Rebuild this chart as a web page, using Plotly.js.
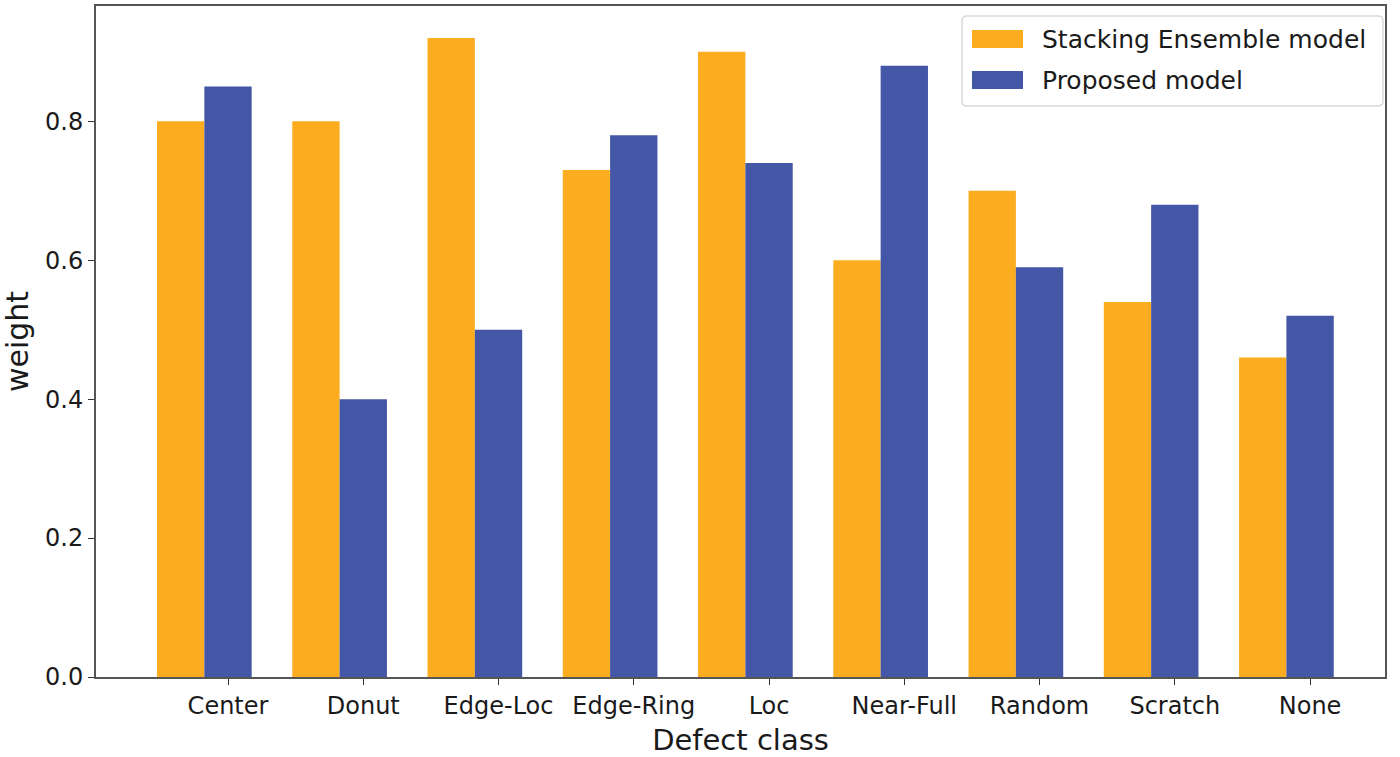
<!DOCTYPE html>
<html>
<head>
<meta charset="utf-8">
<script src="https://cdn.plot.ly/plotly-3.0.1.min.js"></script>
<style>
  body { margin: 0; background: #fff; }
  #chart { width: 1400px; height: 757px; }
</style>
</head>
<body>
<div id="chart"></div>
<script>
const classes = ["Center", "Donut", "Edge-Loc", "Edge-Ring", "Loc", "Near-Full", "Random", "Scratch", "None"];
const stackingWeights = [0.80, 0.80, 0.92, 0.73, 0.90, 0.60, 0.70, 0.54, 0.46];
const proposedWeights = [0.85, 0.40, 0.50, 0.78, 0.74, 0.88, 0.59, 0.68, 0.52];
const yTicks = [0.0, 0.2, 0.4, 0.6, 0.8];
const seriesNames = ["Stacking Ensemble model", "Proposed model"];
const seriesColors = ["#FBAC1F", "#4456A6"];

const fontFamily = "DejaVu Sans, sans-serif";
const textColor = "#1a1a1a";
const barW = 0.35;

// plot area in pixels (used to place the hand drawn legend box)
const M = { l: 96, r: 15, t: 6, b: 80 };
const W = 1400, H = 757;
const plotW = W - M.l - M.r, plotH = H - M.t - M.b;
const px = v => (v - M.l) / plotW;
const py = v => (H - M.b - v) / plotH;

const traces = [
  {
    type: "bar",
    name: seriesNames[0],
    x: classes,
    y: stackingWeights,
    width: barW,
    offset: -1.5 * barW,
    marker: { color: seriesColors[0] }
  },
  {
    type: "bar",
    name: seriesNames[1],
    x: classes,
    y: proposedWeights,
    width: barW,
    offset: -0.5 * barW,
    marker: { color: seriesColors[1] }
  }
];

// legend like matplotlib: rounded frame, wide patches
const shapes = [];
const annotations = [];
const bx0 = 962, bx1 = 1383, by0 = 16, by1 = 106, rr = 5;
shapes.push({
  type: "path", xref: "paper", yref: "paper",
  path: "M" + px(bx0 + rr) + "," + py(by0) +
        " L" + px(bx1 - rr) + "," + py(by0) +
        " Q" + px(bx1) + "," + py(by0) + " " + px(bx1) + "," + py(by0 + rr) +
        " L" + px(bx1) + "," + py(by1 - rr) +
        " Q" + px(bx1) + "," + py(by1) + " " + px(bx1 - rr) + "," + py(by1) +
        " L" + px(bx0 + rr) + "," + py(by1) +
        " Q" + px(bx0) + "," + py(by1) + " " + px(bx0) + "," + py(by1 - rr) +
        " L" + px(bx0) + "," + py(by0 + rr) +
        " Q" + px(bx0) + "," + py(by0) + " " + px(bx0 + rr) + "," + py(by0) + " Z",
  line: { color: "#d9d9d9", width: 1.5 },
  fillcolor: "rgba(255,255,255,0.85)"
});
seriesNames.forEach(function (name, i) {
  const rowY = 39 + i * 41;
  shapes.push({
    type: "rect", xref: "paper", yref: "paper",
    x0: px(972), x1: px(1023), y0: py(rowY - 9), y1: py(rowY + 9),
    line: { width: 0 },
    fillcolor: seriesColors[i]
  });
  annotations.push({
    xref: "paper", yref: "paper",
    x: px(1040), y: py(rowY),
    xanchor: "left", yanchor: "middle",
    text: name, showarrow: false,
    font: { size: 25, color: textColor }
  });
});

const layout = {
  width: W,
  height: H,
  margin: M,
  paper_bgcolor: "#fff",
  plot_bgcolor: "#fff",
  barmode: "overlay",
  showlegend: false,
  font: { family: fontFamily, size: 24, color: textColor },
  xaxis: {
    type: "category",
    range: [-0.976, 8.554],
    showgrid: false,
    ticks: "outside",
    ticklen: 6,
    tickcolor: "#333",
    showline: true,
    linecolor: "#555",
    linewidth: 2,
    mirror: true,
    tickfont: { size: 24, color: textColor },
    title: { text: "Defect class", font: { size: 29, color: textColor }, standoff: 14 }
  },
  yaxis: {
    range: [0, 0.966],
    tickvals: yTicks,
    tickformat: ".1f",
    showgrid: false,
    zeroline: false,
    ticks: "outside",
    ticklen: 6,
    tickcolor: "#333",
    showline: true,
    linecolor: "#555",
    linewidth: 2,
    mirror: true,
    tickfont: { size: 24, color: textColor },
    title: { text: "weight", font: { size: 30, color: textColor }, standoff: 10 }
  },
  shapes: shapes,
  annotations: annotations
};

Plotly.newPlot("chart", traces, layout, { displayModeBar: false, staticPlot: true });
</script>
</body>
</html>
